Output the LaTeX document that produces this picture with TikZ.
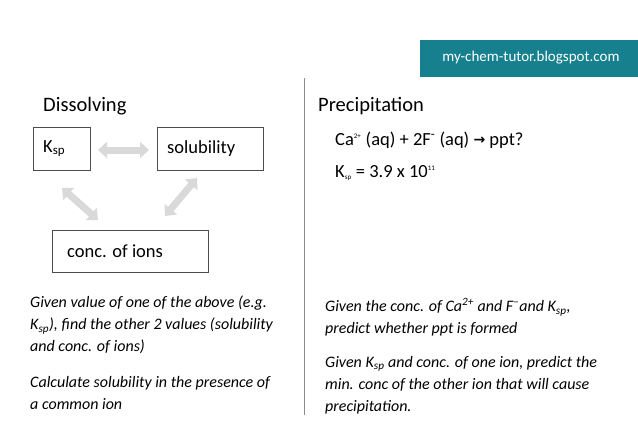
\documentclass[tikz,border=0pt]{standalone}
\usepackage{fontspec}
\setmainfont{Carlito}
\usetikzlibrary{arrows.meta}
\definecolor{teal1}{HTML}{17808F}
\tikzset{box/.style={draw=black!70,line width=0.6pt,minimum height=43pt,inner sep=0pt},
 garrow/.style={draw=black!15,line width=7pt,{Triangle[width=16pt,length=9pt]}-{Triangle[width=16pt,length=9pt]},shorten <=0pt},
 para/.style={anchor=north west,align=left,font=\fontsize{16}{22}\selectfont\itshape,inner sep=0pt}}
\begin{document}
\begin{tikzpicture}[x=1pt,y=-1pt]
\useasboundingbox (0,0) rectangle (638,442);
\fill[teal1] (420,40) rectangle (638,77);
\node[text=white,font=\fontsize{15}{16}\selectfont] (banner) at (531,58) {my-chem-tutor.blogspot.com};
\draw[black!45,line width=0.8pt] (304,78) -- (304,415);
\node[anchor=base west,font=\fontsize{20.5}{22}\selectfont,inner sep=0pt] (dis) at (43,111) {Dissolving};
\node[anchor=base west,font=\fontsize{20.5}{22}\selectfont,inner sep=0pt] (pre) at (318,111) {Precipitation};
\node[box,minimum width=57pt] (ksp) at (61.5,148.5) {};
\node[anchor=west,font=\fontsize{18.5}{20}\selectfont] at ([xshift=7pt]ksp.west) {K\textsubscript{sp}};
\node[box,minimum width=106pt] (sol) at (210,148.5) {};
\node[anchor=west,font=\fontsize{18.5}{20}\selectfont] at ([xshift=7pt]sol.west) {solubility};
\node[box,minimum width=156pt,minimum height=42pt] (conc) at (130,251) {};
\node[anchor=west,font=\fontsize{18.5}{20}\selectfont] at ([xshift=12pt]conc.west) {conc. of ions};
\coordinate (a1) at (98,150); \coordinate (a2) at (149,150);
\coordinate (b1) at (62,188); \coordinate (b2) at (98,220);
\coordinate (c1) at (197,178); \coordinate (c2) at (165,216);
\draw[garrow] (a1) -- (a2);
\draw[garrow] (b1) -- (b2);
\draw[garrow] (c1) -- (c2);
\node[anchor=base west,font=\fontsize{18.5}{20}\selectfont,inner sep=0pt] (eq) at (335,145) {Ca\textsuperscript{\scriptsize 2+} (aq) + 2F\textsuperscript{-} (aq) \raisebox{1pt}{\fontspec{DejaVu Sans Bold}\fontsize{14}{14}\selectfont →} ppt?};
\node[anchor=base west,font=\fontsize{18.5}{20}\selectfont,inner sep=0pt] (k) at (335,177) {K\textsubscript{\scriptsize sp} = 3.9 x 10\textsuperscript{\scriptsize 11}};
\node[para] (p1) at (30,296) {Given value of one of the above (e.g.\\K\textsubscript{sp}), find the other 2 values (solubility\\and conc. of ions)};
\node[para] (p2) at (30,376) {Calculate solubility in the presence of\\a common ion};
\node[para] (p3) at (325,298) {Given the conc. of Ca\textsuperscript{2+} and F\textsuperscript{--}and K\textsubscript{sp},\\predict whether ppt is formed};
\node[para] (p4) at (325,356) {Given K\textsubscript{sp} and conc. of one ion, predict the\\min. conc of the other ion that will cause\\precipitation.};
\end{tikzpicture}
\end{document}
